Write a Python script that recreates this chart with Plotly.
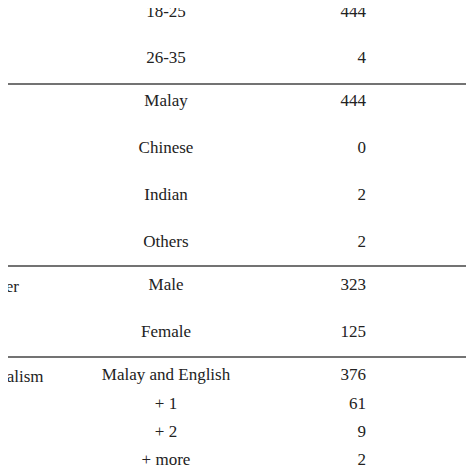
import plotly.graph_objects as go

groups = ["Age", "Race", "Gender", "Multilingualism"]
group_rows = [0, 2, 6, 8]
categories = ["18-25", "26-35", "Malay", "Chinese", "Indian", "Others", "Male", "Female",
              "Malay and English", "+ 1", "+ 2", "+ more"]
counts = [444, 4, 444, 0, 2, 2, 323, 125, 376, 61, 9, 2]
row_y = [12, 58, 101, 148, 195, 242, 285, 332, 375, 404, 432, 460]
group_label_right = [None, 7, 21, 46]
rule_y = [83, 265, 356]

font = dict(family="Liberation Serif", size=17, color="#222")
fig = go.Figure()
fig.add_trace(go.Scatter(x=[166]*len(categories), y=row_y, mode="text", text=categories,
                         textfont=font, textposition="middle center", hoverinfo="skip",
                         cliponaxis=False))
fig.add_trace(go.Scatter(x=[366]*len(counts), y=row_y, mode="text", text=[str(c) for c in counts],
                         textfont=font, textposition="middle left", hoverinfo="skip",
                         cliponaxis=False))
ann = []
for g, r, xr in zip(groups, group_rows, group_label_right):
    if xr is None:
        continue
    ann.append(dict(x=xr, y=row_y[r], text=g, showarrow=False, xanchor="right",
                    yanchor="middle", font=font, xref="x", yref="y"))
shapes = [dict(type="line", xref="paper", x0=-0.05, x1=1.05, yref="y", y0=y, y1=y,
               line=dict(color="#444", width=1.6)) for y in rule_y]
fig.update_layout(width=474, height=474, margin=dict(l=0, r=0, t=0, b=0),
                  plot_bgcolor="white", paper_bgcolor="white", showlegend=False,
                  xaxis=dict(range=[8, 482], visible=False),
                  yaxis=dict(range=[481, 7], visible=False),
                  annotations=ann, shapes=shapes)
fig.write_html("out.html")
